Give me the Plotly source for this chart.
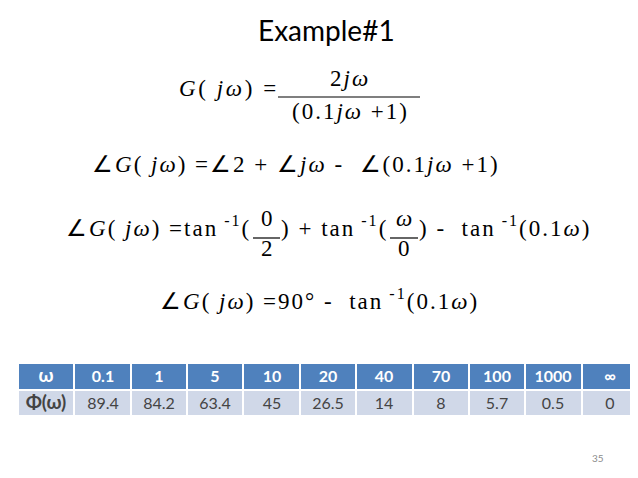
import plotly.graph_objects as go

W, H = 638, 478

omega_labels = ["0.1", "1", "5", "10", "20", "40", "70", "100", "1000", "∞"]
phase_values = [89.4, 84.2, 63.4, 45, 26.5, 14, 8, 5.7, 0.5, 0]


def px(x):
    return x / W


def py(y):
    return 1 - y / H


fig = go.Figure()

# table drawn as a two-row heatmap on a category grid (row 0 = header colour, row 1 = body colour)
cols = ["ω"] + omega_labels
head_txt = ['<b><span style="font-size:19px">ω</span></b>'] + ["<b>%s</b>" % s for s in omega_labels]
body_txt = ['<b><span style="font-size:19px">Φ(ω)</span></b>'] + ["%g" % v for v in phase_values]

fig.add_trace(go.Heatmap(
    x=cols, y=["body", "head"], z=[[1] * len(cols), [0] * len(cols)],
    text=[body_txt, head_txt], texttemplate="%{text}",
    textfont=dict(family="Lato", size=16),
    colorscale=[[0, "#4F81BD"], [1, "#D0D8E8"]], zmin=0, zmax=1, showscale=False,
    xgap=2, ygap=2, hoverinfo="skip",
))

serif = dict(family="Liberation Serif", size=23, color="black")
ann = []


def txt(x, y, s, anchor="left", font=serif, spacing=2):
    if spacing:
        s = '<span style="letter-spacing:%spx">%s</span>' % (spacing, s)
    ann.append(dict(x=px(x), y=py(y), xref="paper", yref="paper", text=s, showarrow=False,
                    xanchor=anchor, yanchor="middle", font=font))


def frac_line(x0, x1, y):
    fig.add_shape(type="line", xref="paper", yref="paper", x0=px(x0), x1=px(x1),
                  y0=py(y), y1=py(y), line=dict(color="black", width=1.2))


ang = "∠"
Gjw = "<i>G</i>( <i>jω</i>)"
tinv = "tan<sup> -1</sup>"

# title
txt(318, 22, "Example#1", "center", dict(family="Lato", size=28, color="black"), 0)

# G(jw) = 2jw / (0.1jw + 1)
txt(273, 81, Gjw + " =", "right", spacing=2.6)
frac_line(270, 412, 89)
txt(342, 70, "2<i>jω</i>", "center")
txt(342, 103, "(0.1<i>jω</i> +1)", "center")

# phase sum
txt(82, 156, ang + Gjw + " =" + ang + "2 + " + ang + "<i>jω</i> -  " + ang + "(0.1<i>jω</i> +1)")

# arctan form
txt(245, 218, ang + Gjw + " =" + tinv + "(", "right")
frac_line(245, 272, 230)
txt(259, 210, "0", "center", spacing=0)
txt(259, 241, "2", "center", spacing=0)
txt(271, 218, ") + " + tinv + "(")
frac_line(382, 410, 230)
txt(396, 210, "<i>ω</i>", "center", spacing=0)
txt(396, 241, "0", "center", spacing=0)
txt(409, 218, ") -  " + tinv + "(0.1<i>ω</i>)")

# final
txt(150, 291, ang + Gjw + " =90° -  " + tinv + "(0.1<i>ω</i>)")

# slide number
txt(590, 450, "35", "center", dict(family="Lato", size=10, color="#8C8C8C"), 0)

fig.update_layout(
    width=W, height=H, margin=dict(l=0, r=0, t=0, b=0),
    paper_bgcolor="white", plot_bgcolor="white",
    annotations=ann, showlegend=False,
    xaxis=dict(domain=[px(10), px(630)], type="category", visible=False, fixedrange=True),
    yaxis=dict(domain=[py(408), py(355)], type="category", categoryorder="array",
               categoryarray=["body", "head"], visible=False, fixedrange=True),
)

fig.write_html("out.html")
